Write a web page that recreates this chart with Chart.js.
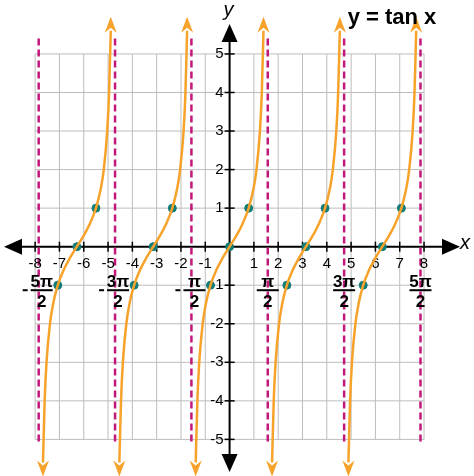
<!DOCTYPE html><html><head><meta charset="utf-8">
<script src="https://cdn.jsdelivr.net/npm/chart.js@4/dist/chart.umd.min.js"></script>
<style>html,body{margin:0;padding:0;background:#fff}#w{width:474px;height:476px}</style></head><body><div id="w"><canvas id="c"></canvas></div>
<script>
const PI = Math.PI;
// branch centres (multiples of pi)
const branchCenters = [-2*PI, -PI, 0, PI, 2*PI];
// one branch of tan: x offset from centre and y value
const branchDx = [-1.3941,-1.3258,-1.2490,-1.1071,-0.9828,-0.7854,-0.5404,-0.2915,0,0.2915,0.5404,0.7854,0.9828,1.1071,1.2490,1.3258,1.3941];
const branchY  = [-5.6,-4,-3,-2,-1.5,-1,-0.6,-0.3,0,0.3,0.6,1,1.5,2,3,4,5.6];
const asymptotes = [-5*PI/2,-3*PI/2,-PI/2,PI/2,3*PI/2,5*PI/2];
const asymLabels = [["5π","2",true],["3π","2",true],["π","2",true],["π","2",false],["3π","2",false],["5π","2",false]];
const markDx = [-PI/4, 0, PI/4];
const markY = [-1, 0, 1];
const xTicks = [-8,-7,-6,-5,-4,-3,-2,-1,1,2,3,4,5,6,7,8];
const yTicks = [-5,-4,-3,-2,-1,1,2,3,4,5];

const orange='#F7A32B', mag='#C2187A', teal='#127C78';
const datasets=[];
branchCenters.forEach(c=>{
  datasets.push({data:branchDx.map((d,i)=>({x:c+d,y:branchY[i]})),borderColor:orange,borderWidth:2.5,pointRadius:0,cubicInterpolationMode:'monotone',fill:false});
});
datasets.push({type:'scatter',data:branchCenters.flatMap(c=>markDx.map((d,i)=>({x:c+d,y:markY[i]}))),backgroundColor:teal,borderColor:teal,pointRadius:4});

const bg={id:'bg',beforeDatasetsDraw(ch){
  const {ctx,scales:{x,y}}=ch; ctx.save();
  ctx.strokeStyle='#bdbdbd';ctx.lineWidth=1;
  for(let i=-8;i<=8;i++){const p=x.getPixelForValue(i);ctx.beginPath();ctx.moveTo(p,y.getPixelForValue(5));ctx.lineTo(p,y.getPixelForValue(-5));ctx.stroke();}
  for(let j=-5;j<=5;j++){const p=y.getPixelForValue(j);ctx.beginPath();ctx.moveTo(x.getPixelForValue(-8),p);ctx.lineTo(x.getPixelForValue(8),p);ctx.stroke();}
  const x0=x.getPixelForValue(0), y0=y.getPixelForValue(0);
  ctx.strokeStyle='#000';ctx.fillStyle='#000';ctx.lineWidth=2;
  ctx.beginPath();ctx.moveTo(12,y0);ctx.lineTo(452,y0);ctx.stroke();
  ctx.beginPath();ctx.moveTo(x0,34);ctx.lineTo(x0,462);ctx.stroke();
  const tri=(a,b,c,d,e,f)=>{ctx.beginPath();ctx.moveTo(a,b);ctx.lineTo(c,d);ctx.lineTo(e,f);ctx.closePath();ctx.fill();};
  tri(4,y0,22,y0-8,22,y0+8); tri(460,y0,442,y0-8,442,y0+8);
  tri(x0,24,x0-8,42,x0+8,42); tri(x0,472,x0-8,454,x0+8,454);
  ctx.lineWidth=1.5;
  xTicks.forEach(v=>{const p=x.getPixelForValue(v);ctx.beginPath();ctx.moveTo(p,y0-5);ctx.lineTo(p,y0+5);ctx.stroke();});
  yTicks.forEach(v=>{const p=y.getPixelForValue(v);ctx.beginPath();ctx.moveTo(x0-5,p);ctx.lineTo(x0+5,p);ctx.stroke();});
  ctx.strokeStyle=mag;ctx.lineWidth=2.5;ctx.setLineDash([7,4]);
  asymptotes.forEach(a=>{const p=x.getPixelForValue(a);ctx.beginPath();ctx.moveTo(p,y.getPixelForValue(5.4));ctx.lineTo(p,y.getPixelForValue(-5.1));ctx.stroke();});
  ctx.setLineDash([]);
  ctx.font='15px "Liberation Sans", Arial';ctx.textAlign='center';ctx.textBaseline='top';
  xTicks.forEach(v=>ctx.fillText(String(v),x.getPixelForValue(v),y0+10));
  ctx.textAlign='right';ctx.textBaseline='middle';
  yTicks.forEach(v=>ctx.fillText(String(v),x0-6,y.getPixelForValue(v)));
  ctx.restore();
},
afterDatasetsDraw(ch){
  const {ctx,scales:{x,y}}=ch; ctx.save();
  ctx.fillStyle=orange;
  branchCenters.forEach(c=>{
    [[0,1],[branchDx.length-1,-1]].forEach(([i,s])=>{
      const px=x.getPixelForValue(c+branchDx[i]), py=y.getPixelForValue(branchY[i]);
      const tip=py+s*14;
      ctx.beginPath();ctx.moveTo(px,tip);ctx.lineTo(px-6,tip-s*16);ctx.lineTo(px,tip-s*11);ctx.lineTo(px+6,tip-s*16);ctx.closePath();ctx.fill();
    });
  });
  ctx.fillStyle='#000';ctx.strokeStyle='#000';
  asymptotes.forEach((a,k)=>{
    const neg=asymLabels[k][2];
    const p=x.getPixelForValue(a)+(neg?3:0);
    const yt=y.getPixelForValue(-1);
    ctx.font='bold 17px "Liberation Sans", Arial';ctx.textAlign='center';ctx.textBaseline='alphabetic';
    ctx.fillText(asymLabels[k][0],p,yt+2);
    ctx.fillText(asymLabels[k][1],p,yt+22);
    ctx.lineWidth=2;ctx.beginPath();ctx.moveTo(p-11,yt+5);ctx.lineTo(p+11,yt+5);ctx.stroke();
    if(neg){ctx.beginPath();ctx.moveTo(p-19,yt+5);ctx.lineTo(p-14,yt+5);ctx.stroke();}
  });
  ctx.font='italic 20px "Liberation Sans", Arial';ctx.textAlign='left';ctx.textBaseline='middle';
  ctx.fillText('y',x.getPixelForValue(0)-6,10);
  ctx.fillText('x',460,243);
  ctx.font='bold 22px "Liberation Sans", Arial';ctx.textAlign='center';
  ctx.fillText('y = tan x',392,18);
  ctx.restore();
}};

new Chart(document.getElementById('c'),{type:'line',data:{datasets},
 options:{responsive:true,maintainAspectRatio:false,animation:false,
  layout:{padding:0},
  plugins:{legend:{display:false},tooltip:{enabled:false}},
  scales:{x:{type:'linear',min:-9.24,max:9.85,display:false},y:{type:'linear',min:-5.82,max:6.27,display:false}}},
 plugins:[bg]});
</script></body></html>
